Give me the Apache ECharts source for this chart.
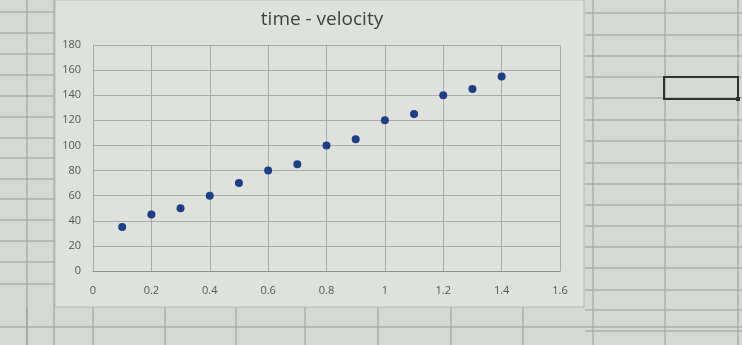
<!DOCTYPE html>
<html>
<head>
<meta charset="utf-8">
<script src="https://cdn.jsdelivr.net/npm/echarts@6/dist/echarts.min.js"></script>
<style>
html,body{margin:0;padding:0;background:#d5d8d3;}
#c{width:742px;height:345px;}
</style>
</head>
<body>
<div id="c"></div>
<script>
// Data
var timeValues = [0.1, 0.2, 0.3, 0.4, 0.5, 0.6, 0.7, 0.8, 0.9, 1.0, 1.1, 1.2, 1.3, 1.4];
var velocityValues = [35, 45, 50, 60, 70, 80, 85, 100, 105, 120, 125, 140, 145, 155];
var chartTitle = 'time - velocity';

// Decoration: spreadsheet behind the chart (photo background)
var leftRows = [12, 33, 54, 75, 96, 117, 138, 158, 179, 199, 220, 241, 262, 284];
var rightRows = [13, 35, 56, 77, 98, 120, 141, 163, 184, 205, 226, 247, 268, 290, 310, 331];
var bottomRows = [327];
var bottomCols = [27, 93, 165, 236, 305, 378, 451, 523];

var points = timeValues.map(function (t, i) { return [t, velocityValues[i]]; });

var g = [];
var lineStyle = {stroke: '#9a9d99', lineWidth: 1};
leftRows.forEach(function (y) { g.push({type: 'line', shape: {x1: 0, y1: y, x2: 54, y2: y}, style: lineStyle, z: -10}); });
g.push({type: 'line', shape: {x1: 27, y1: 0, x2: 27, y2: 345}, style: lineStyle, z: -10});
g.push({type: 'line', shape: {x1: 54, y1: 0, x2: 54, y2: 345}, style: lineStyle, z: -10});
rightRows.forEach(function (y) { g.push({type: 'line', shape: {x1: 585, y1: y, x2: 742, y2: y}, style: lineStyle, z: -10}); });
[593, 665, 738].forEach(function (x) { g.push({type: 'line', shape: {x1: x, y1: 0, x2: x, y2: 345}, style: lineStyle, z: -10}); });
bottomRows.forEach(function (y) { g.push({type: 'line', shape: {x1: 0, y1: y, x2: 742, y2: y}, style: lineStyle, z: -10}); });
bottomCols.forEach(function (x) { g.push({type: 'line', shape: {x1: x, y1: 307, x2: x, y2: 345}, style: lineStyle, z: -10}); });
g.push({type: 'rect', shape: {x: 55, y: 0, width: 529, height: 307}, style: {fill: '#dfe1dd', stroke: '#b5b8b4', lineWidth: 1}, z: -9});
g.push({type: 'rect', shape: {x: 664, y: 77, width: 74, height: 22}, style: {fill: 'none', stroke: '#2f332f', lineWidth: 2}, z: -8});
g.push({type: 'rect', shape: {x: 736, y: 97, width: 4, height: 4}, style: {fill: '#2f332f'}, z: -8});

var chart = echarts.init(document.getElementById('c'), null, {renderer: 'canvas'});
chart.setOption({
  backgroundColor: '#d5d8d3',
  animation: false,
  graphic: g,
  title: {
    text: chartTitle,
    left: 317,
    top: 5,
    textAlign: 'center',
    textStyle: {fontFamily: 'Open Sans', fontSize: 19, fontWeight: 'normal', color: '#3f423f'}
  },
  grid: {left: 93, right: 182, top: 45, bottom: 74, show: false},
  xAxis: {
    type: 'value', min: 0, max: 1.6, interval: 0.2,
    axisLine: {show: true, lineStyle: {color: '#8e918d'}},
    axisTick: {show: false},
    axisLabel: {color: '#555855', fontSize: 11, fontFamily: 'Open Sans', margin: 14},
    splitLine: {show: true, lineStyle: {color: '#a9aca8', width: 1}}
  },
  yAxis: {
    type: 'value', min: 0, max: 180, interval: 20,
    axisLine: {show: true, lineStyle: {color: '#a9aca8'}},
    axisTick: {show: false},
    axisLabel: {color: '#555855', fontSize: 11, fontFamily: 'Open Sans', margin: 12},
    splitLine: {show: true, lineStyle: {color: '#a9aca8', width: 1}}
  },
  series: [{
    type: 'scatter',
    data: points,
    symbol: 'circle',
    symbolSize: 8,
    itemStyle: {color: '#1d3f86', opacity: 1}
  }]
});
</script>
</body>
</html>
